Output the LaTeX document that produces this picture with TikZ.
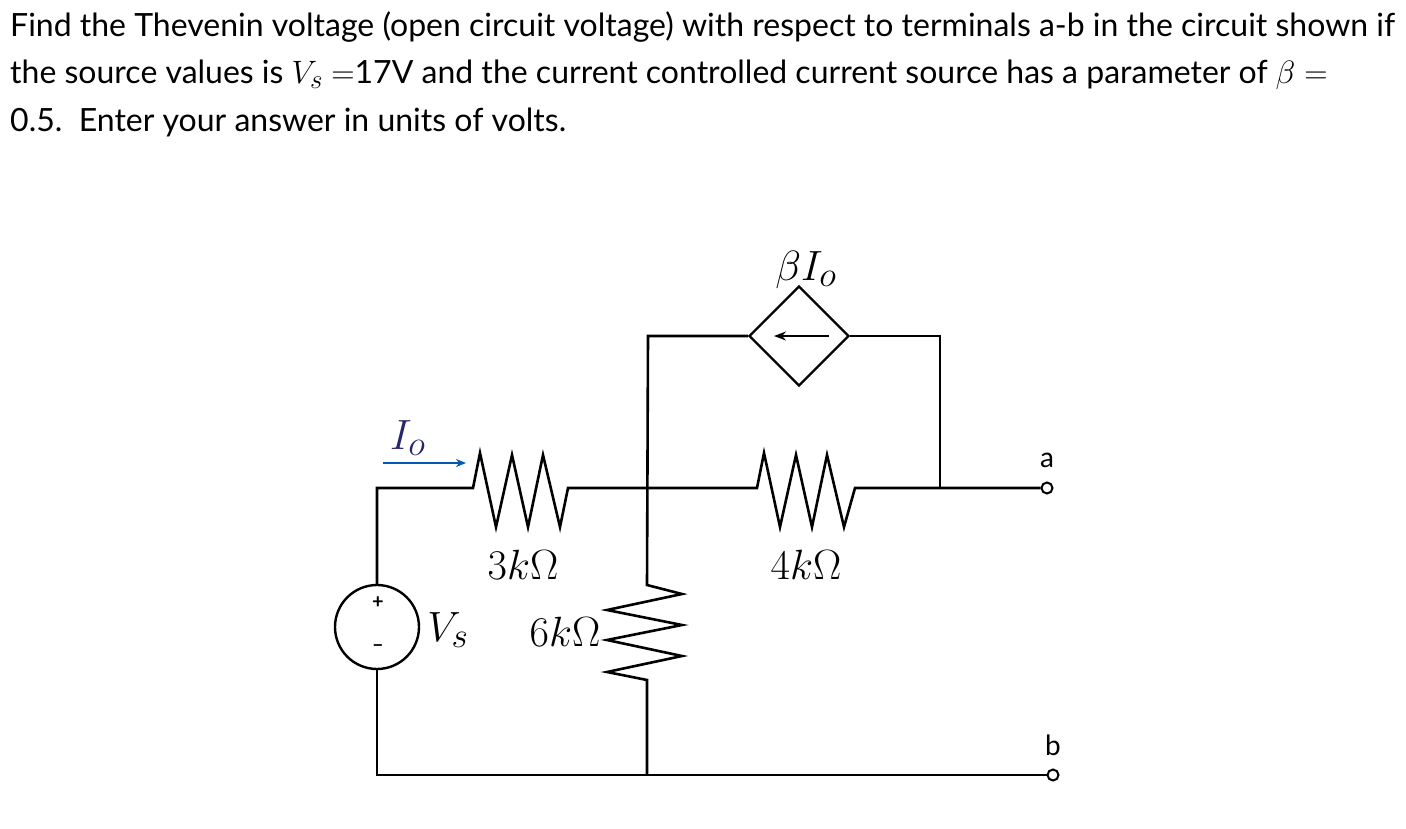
\documentclass[tikz,border=0pt]{standalone}
\usepackage{fontspec}
\usepackage{graphicx}
\setmainfont{Lato}
\usetikzlibrary{arrows.meta,shapes.geometric}
\newcommand{\mymath}[1]{\scalebox{1.3}{$#1$}}
\begin{document}
\begin{tikzpicture}[x=1pt,y=-1pt,
  w/.style={line width=2.6pt,line join=miter},
  lbl/.style={font=\fontsize{24.88}{28}\selectfont,scale=1.7},
  txt/.style={anchor=west,inner sep=0pt,font=\fontsize{32}{36}\selectfont}]
\useasboundingbox (0,0) rectangle (1406,828);
\node[txt] (t1) at (10,27) {Find the Thevenin voltage (open circuit voltage) with respect to terminals a-b in the circuit shown if};
\node[txt] (t2) at (10,75) {the source values is \mymath{V_s} \mymath{=}17V and the current controlled current source has a parameter of \mymath{\beta =}};
\node[txt] (t3) at (10,122) {0.5.\ \ Enter your answer in units of volts.};
% nodes
\coordinate (tl) at (377,488);
\coordinate (bl) at (377,775);
\coordinate (m) at (647,488);
\coordinate (mt) at (648,336);
\coordinate (mb) at (647,775);
\coordinate (r) at (940,488);
\coordinate (rt) at (940,336);
\node[circle,draw,line width=2.4pt,minimum size=84pt,inner sep=0pt] (vs) at (377,627) {};
\node[font=\bfseries\fontsize{20}{20}\selectfont] (pl) at (378,603) {+};
\node[font=\bfseries\fontsize{20}{20}\selectfont] (mi) at (378,648) {–};
\node[diamond,draw,line width=2.4pt,minimum width=100pt,minimum height=100pt,inner sep=0pt] (cs) at (799,336) {};
\node[circle,draw,line width=2pt,minimum size=11pt,inner sep=0pt] (a) at (1047,488) {};
\node[circle,draw,line width=2pt,minimum size=11pt,inner sep=0pt] (b) at (1053,775) {};
\node[font=\fontsize{28}{28}\selectfont] (la) at (1047,460) {a};
\node[font=\fontsize{28}{28}\selectfont] (lb) at (1053,745) {b};
% wires
\draw[w] (vs.north) -- (tl) -- (473,488) -- (480,453) -- (496,527) -- (512,455) -- (528,527) -- (543,455) -- (560,527) -- (568,488) -- (m)
  -- (757,488) -- (764,453) -- (780,527) -- (796,455) -- (812,527) -- (827,455) -- (844,527) -- (855,488) -- (r) -- (a.west);
\draw[w] (vs.south) -- (bl) -- (mb) -- (b.west);
\draw[w] (mb) -- (647,680) -- (607,672) -- (682,656) -- (607,640) -- (682,625) -- (607,610) -- (682,594) -- (647,585) -- (mt) -- (cs.west);
\draw[w] (cs.east) -- (rt) -- (r);
\draw[line width=2.2pt,-{Stealth[length=12pt,width=9pt]}] (829,336) -- (774,336);
\draw[line width=2.2pt,color=blue!50!cyan!70!black,-{Stealth[length=10pt,width=8pt]}] (383,463) -- (466,463);
% labels
\node[lbl] (l3) at (523,565) {$3k\Omega$};
\node[lbl] (l4) at (806,565) {$4k\Omega$};
\node[lbl] (l6) at (565,632) {$6k\Omega$};
\node[lbl] (lv) at (448,630) {$V_s$};
\node[lbl,text=black!60!blue!70!gray] (lio) at (408,438) {$I_o$};
\node[lbl] (lbeta) at (806,270) {$\beta I_o$};
\end{tikzpicture}
\end{document}
